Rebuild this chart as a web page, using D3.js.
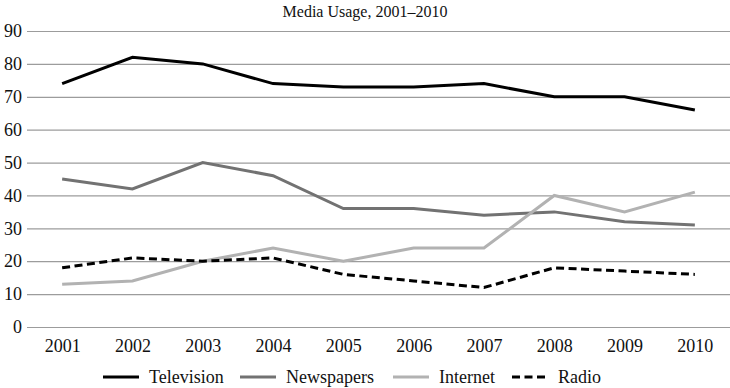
<!DOCTYPE html>
<html>
<head>
<meta charset="utf-8">
<title>Media Usage, 2001–2010</title>
<style>
    body { margin: 0; background: #fff; }
</style>
</head>
<body>
<div id="chart"></div>
<script src="https://cdn.jsdelivr.net/npm/d3@7"></script>
<script>
(function(d3) {
    'use strict';
    var years = ['2001', '2002', '2003', '2004', '2005', '2006', '2007', '2008', '2009', '2010'];
    var television = [74, 82, 80, 74, 73, 73, 74, 70, 70, 66];
    var newspapers = [45, 42, 50, 46, 36, 36, 34, 35, 32, 31];
    var internet = [13, 14, 20, 24, 20, 24, 24, 40, 35, 41];
    var radio = [18, 21, 20, 21, 16, 14, 12, 18, 17, 16];
    var yTicks = [0, 10, 20, 30, 40, 50, 60, 70, 80, 90];

    var series = [
        { name: 'Television', values: television, color: '#000', dash: null },
        { name: 'Newspapers', values: newspapers, color: '#727272', dash: null },
        { name: 'Internet', values: internet, color: '#b2b2b2', dash: null },
        { name: 'Radio', values: radio, color: '#000', dash: '8,4.5' }
    ];

    var serif = '"Liberation Serif"';
    var width = 730, height = 388;
    var left = 27, right = 730, top = 31, bottom = 327;

    var svg = d3.select('#chart').append('svg')
        .attr('width', width)
        .attr('height', height);

    var x = d3.scalePoint().domain(years).range([left, right]).padding(0.5);
    var y = d3.scaleLinear().domain([0, 90]).range([bottom, top]);

    // title
    svg.append('text')
        .attr('x', 365).attr('y', 17)
        .attr('text-anchor', 'middle')
        .style('font-family', serif)
        .style('font-size', '16px')
        .attr('fill', '#111')
        .text('Media Usage, 2001–2010');

    // grid + y labels
    var yAxis = svg.append('g')
        .attr('transform', 'translate(' + left + ',0)')
        .call(d3.axisLeft(y).tickValues(yTicks).tickSize(-(right - left)).tickPadding(5));
    yAxis.select('.domain').remove();
    yAxis.selectAll('line').attr('stroke', '#9c9c9c').attr('stroke-width', 1.2);
    yAxis.selectAll('text')
        .style('font-family', serif)
        .style('font-size', '18px')
        .attr('fill', '#111');

    // x labels
    var xAxis = svg.append('g')
        .attr('transform', 'translate(0,' + bottom + ')')
        .call(d3.axisBottom(x).tickSize(0).tickPadding(12));
    xAxis.select('.domain').remove();
    xAxis.selectAll('text')
        .style('font-family', serif)
        .style('font-size', '18px')
        .attr('fill', '#111');

    var line = d3.line()
        .x(function(d, i) { return x(years[i]); })
        .y(function(d) { return y(d); });

    svg.selectAll('.series')
        .data(series)
        .enter()
        .append('path')
        .attr('class', 'series')
        .attr('fill', 'none')
        .attr('stroke', function(d) { return d.color; })
        .attr('stroke-width', 3)
        .attr('stroke-dasharray', function(d) { return d.dash; })
        .attr('d', function(d) { return line(d.values); });

    // legend
    var legendX = [103, 240, 393, 512];
    var legend = svg.selectAll('.legend')
        .data(series)
        .enter()
        .append('g')
        .attr('class', 'legend')
        .attr('transform', function(d, i) { return 'translate(' + legendX[i] + ',377)'; });

    legend.append('line')
        .attr('x1', 0).attr('x2', 36)
        .attr('y1', 0).attr('y2', 0)
        .attr('stroke', function(d) { return d.color; })
        .attr('stroke-width', 3)
        .attr('stroke-dasharray', function(d) { return d.dash; });

    legend.append('text')
        .attr('x', 46).attr('y', 6)
        .style('font-family', serif)
        .style('font-size', '18px')
        .attr('fill', '#111')
        .text(function(d) { return d.name; });
})(window.d3);
</script>
</body>
</html>
